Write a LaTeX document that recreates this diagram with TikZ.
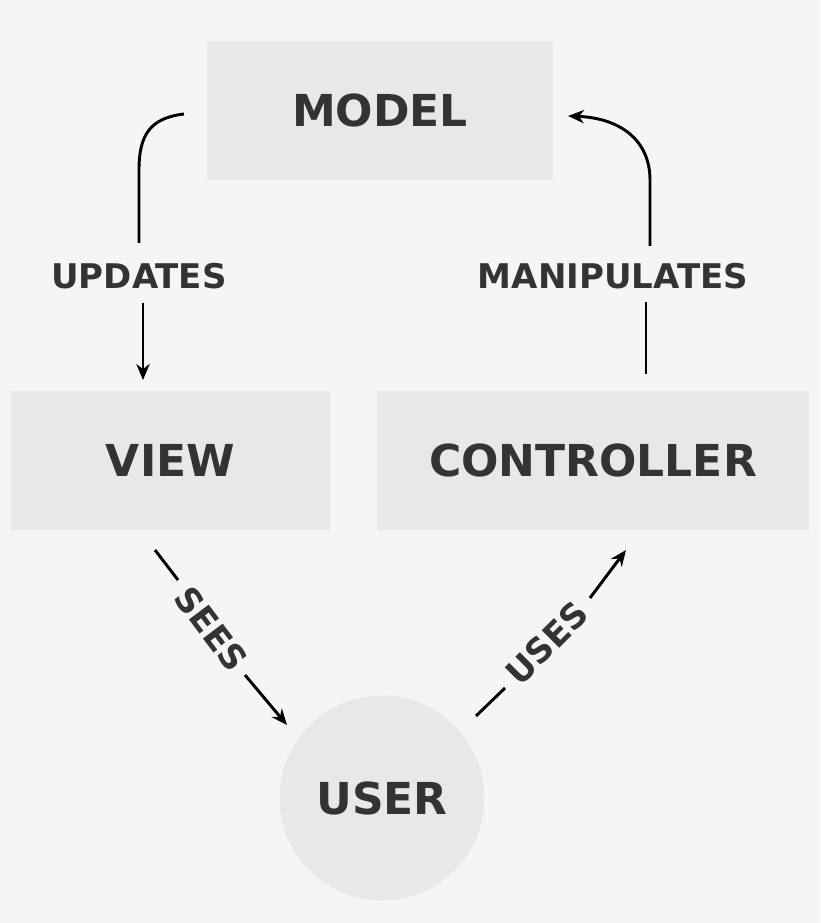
\documentclass[tikz,border=0pt]{standalone}
\usepackage{fontspec}
\setmainfont{DejaVu Sans}
\usetikzlibrary{arrows.meta}
\definecolor{bg}{HTML}{F5F5F5}
\definecolor{boxc}{HTML}{E8E8E8}
\definecolor{txt}{HTML}{333333}
\begin{document}
\begin{tikzpicture}[x=0.75pt,y=-0.75pt,
  box/.style={fill=boxc,draw=none,text=txt,font=\fontsize{33}{36}\selectfont\bfseries},
  lab/.style={text=txt,font=\fontsize{25.5}{27}\selectfont\bfseries,inner sep=0},
  con/.style={line width=2.2pt,black},
  arr/.style={con,-{Stealth[length=12pt,width=10pt]}}]
\fill[bg] (0,0) rectangle (820,923);
\useasboundingbox (0,0) rectangle (820,923);
\node[box,minimum width=346*0.75pt,minimum height=139*0.75pt] (model) at (380,110.5) {MODEL};
\node[box,minimum width=319*0.75pt,minimum height=139*0.75pt] (view) at (170.5,460.5) {VIEW};
\node[box,minimum width=432*0.75pt,minimum height=139*0.75pt] (ctrl) at (593,460.5) {CONTROLLER};
\node[box,circle,minimum size=205*0.75pt] (user) at (382,798) {USER};
\node[lab] (upd) at (139,276) {UPDATES};
\node[lab] (man) at (613,276) {MANIPULATES};
\node[lab,rotate=-53] (sees) at (211,629) {SEES};
\node[lab,rotate=45] (uses) at (547,643) {USES};
\coordinate (a1) at (184,114); \coordinate (a2) at (139,243);
\coordinate (a3) at (143,303); \coordinate (a4) at (143,380);
\coordinate (b1) at (646,374); \coordinate (b2) at (646,302);
\coordinate (b3) at (650,246); \coordinate (b4) at (568,116);
\coordinate (c1) at (155,550); \coordinate (c2) at (178,580);
\coordinate (c3) at (245,675); \coordinate (c4) at (287,725);
\coordinate (d1) at (476,716); \coordinate (d2) at (505,688);
\coordinate (d3) at (590,598); \coordinate (d4) at (626,550);
\draw[con] (a1) .. controls (150,118) and (139,135) .. (139,170) -- (a2);
\draw[arr] (a3) -- (a4);
\draw[con] (b1) -- (b2);
\draw[arr] (b3) -- (650,180) .. controls (650,140) and (620,118) .. (b4);
\draw[con] (c1) -- (c2);
\draw[arr] (c3) -- (c4);
\draw[con] (d1) -- (d2);
\draw[arr] (d3) -- (d4);
\end{tikzpicture}
\end{document}
